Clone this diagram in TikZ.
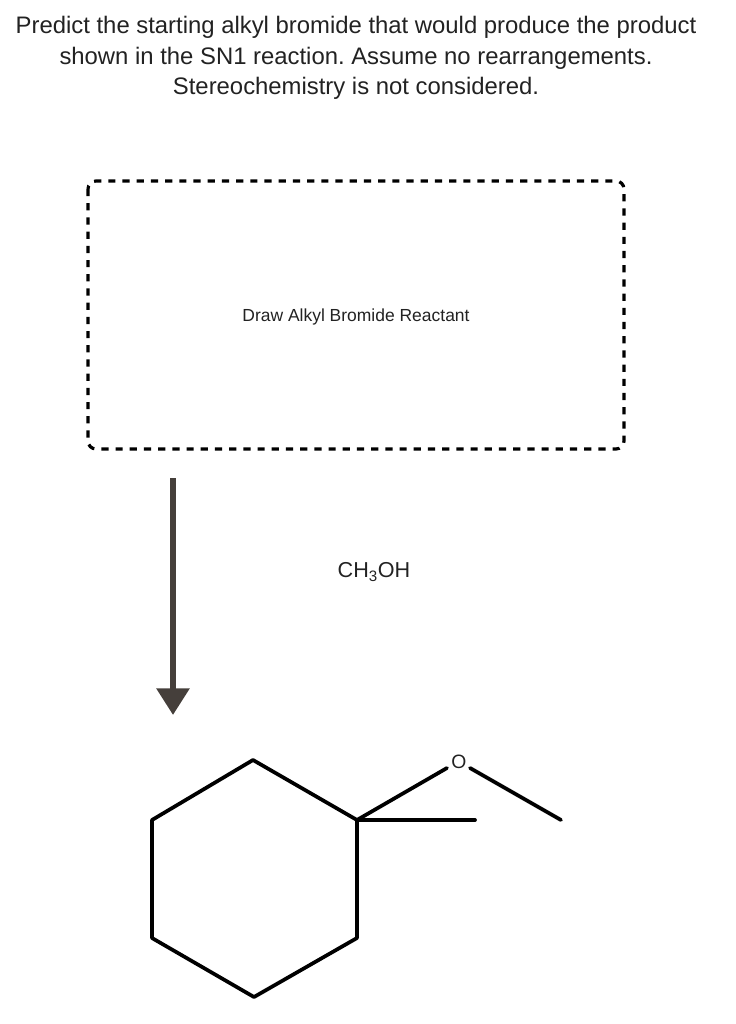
\documentclass[tikz,border=0pt]{standalone}
\usepackage{fontspec}
\setmainfont{Liberation Sans}
\usetikzlibrary{arrows.meta}
\definecolor{arrowcol}{HTML}{453F3B}
\definecolor{txt}{HTML}{222222}
\tikzset{x=0.75pt,y=-0.75pt,
 head/.style={text=txt,font=\frenchspacing\fontsize{17.9pt}{22pt}\selectfont,inner sep=0pt,anchor=center},
 small/.style={text=txt,font=\fontsize{13.1pt}{15pt}\selectfont,inner sep=0pt,anchor=center},
 bond/.style={draw=black,line width=2.8pt,line join=round,line cap=round},
 dropbox/.style={draw=black,line width=2.4pt,dash pattern=on 5.4pt off 5.25pt,rounded corners=6pt}}
\begin{document}
\begin{tikzpicture}
\useasboundingbox (0,0) rectangle (735,1024);
\node[head] (t1) at (356,27.5) {Predict the starting alkyl bromide that would produce the product};
\node[head] (t2) at (356,58) {shown in the SN1 reaction. Assume no rearrangements.};
\node[head] (t3) at (356,88.5) {Stereochemistry is not considered.};
\draw[dropbox] (88,181) rectangle (624,449);
\node[small] (lab) at (356,317) {Draw Alkyl Bromide Reactant};
\node[small,font=\fontsize{16.2pt}{18pt}\selectfont] (reag) at (374,572) {CH\textsubscript{3}OH};
\coordinate (a1) at (173,478);
\coordinate (a2) at (173,715);
\draw[draw=arrowcol,fill=arrowcol,line width=4.5pt,-{Triangle[length=20pt,width=24pt,fill=arrowcol]}] (a1) -- (a2);
\coordinate (r1) at (253,760);
\coordinate (r2) at (357,820);
\coordinate (r3) at (357,938);
\coordinate (r4) at (254,997);
\coordinate (r5) at (152,938);
\coordinate (r6) at (152,820);
\coordinate (me) at (475,820);
\coordinate (et) at (561,820);
\node[small,font=\fontsize{14.5pt}{15pt}\selectfont] (ox) at (459,762) {O};
\draw[bond] (r1)--(r2)--(r3)--(r4)--(r5)--(r6)--cycle;
\draw[bond] (r2)--(me);
\draw[bond] (r2)--(447,768);
\draw[bond] (470,768)--(et);
\end{tikzpicture}
\end{document}
